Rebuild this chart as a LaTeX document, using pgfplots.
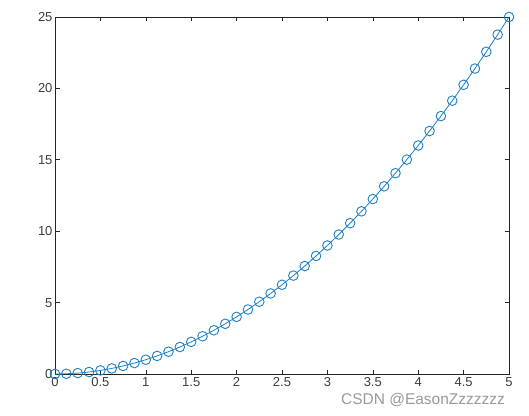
\documentclass[border=0pt]{standalone}
\usepackage{pgfplots}
\pgfplotsset{compat=1.18}
\usepackage{fontspec}
\setmainfont{Liberation Sans}
\definecolor{mblue}{RGB}{30,128,196}
\definecolor{axgray}{RGB}{38,38,38}
\begin{document}
\begin{tikzpicture}[x=1pt,y=1pt]
\path (0,0) rectangle (529,415);
\begin{axis}[
  at={(55pt,41pt)}, anchor=south west,
  scale only axis, width=454pt, height=357pt,
  xmin=0, xmax=5, ymin=0, ymax=25,
  xtick={0,0.5,...,5}, ytick={0,5,10,15,20,25},
  xticklabels={0,0.5,1,1.5,2,2.5,3,3.5,4,4.5,5},
  tick align=inside, major tick length=4.5pt,
  axis line style={axgray, line width=0.6pt},
  tick style={axgray, line width=0.6pt},
  ticklabel style={font=\fontsize{13}{15}\selectfont, text=axgray!90},
  yticklabel style={xshift=1pt},
  /pgf/number format/assume math mode=true,
  xtick pos=both, ytick pos=both,
  xticklabel pos=bottom, yticklabel pos=left,
  clip=false,
]
\addplot[color=mblue, line width=0.8pt, mark=o, mark size=4.8pt, mark options={line width=0.9pt}] coordinates {
(0,0) (0.125,0.015625) (0.25,0.0625) (0.375,0.140625) (0.5,0.25)
(0.625,0.390625) (0.75,0.5625) (0.875,0.765625) (1,1)
(1.125,1.265625) (1.25,1.5625) (1.375,1.890625) (1.5,2.25)
(1.625,2.640625) (1.75,3.0625) (1.875,3.515625) (2,4)
(2.125,4.515625) (2.25,5.0625) (2.375,5.640625) (2.5,6.25)
(2.625,6.890625) (2.75,7.5625) (2.875,8.265625) (3,9)
(3.125,9.765625) (3.25,10.5625) (3.375,11.390625) (3.5,12.25)
(3.625,13.140625) (3.75,14.0625) (3.875,15.015625) (4,16)
(4.125,17.015625) (4.25,18.0625) (4.375,19.140625) (4.5,20.25)
(4.625,21.390625) (4.75,22.5625) (4.875,23.765625) (5,25)
};
\end{axis}
\node[text=gray!80, font=\fontsize{15.5}{17}\selectfont, anchor=center] at (423,15) {CSDN @EasonZzzzzzz};
\end{tikzpicture}
\end{document}
